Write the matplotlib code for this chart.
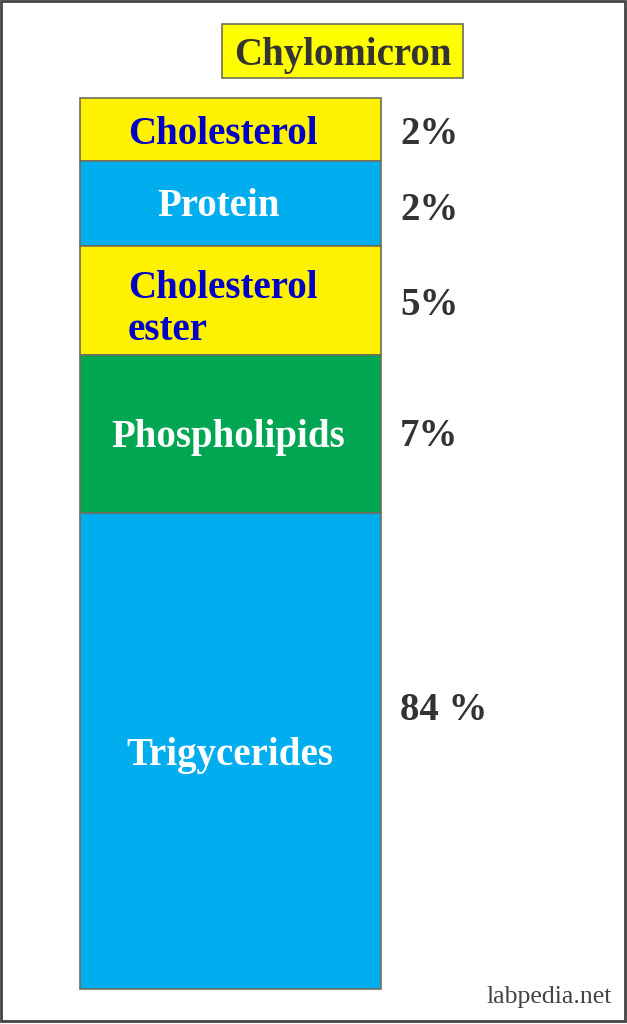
import matplotlib
matplotlib.use("Agg")
import matplotlib.pyplot as plt
from matplotlib.patches import Rectangle
import numpy as np

# Chylomicron composition (segment sizes as drawn, not to scale)
components = ['Cholesterol', 'Protein', 'Cholesterol\nester', 'Phospholipids', 'Trigycerides']
percent_labels = ['2%', '2%', '5%', '7%', '84 %']
segment_heights = [63, 85, 109, 158, 476]

seg_colors = ['#FFF200', '#00AEEF', '#FFF200', '#00A651', '#00AEEF']
text_colors = ['#0000C8', 'white', '#0000C8', 'white', 'white']
text_align = ['center', 'center', 'left', 'center', 'center']
text_x = [223, 219, 128, 228, 230]
text_offset = [5, 3, 9, 3, 5]
pct_offset = [5, 7, 5, 3, -40]

W, H = 627, 1024
fig = plt.figure(figsize=(W / 100, H / 100), dpi=100)
ax = fig.add_axes([0, 0, 1, 1])
ax.set_xlim(0, W)
ax.set_ylim(H, 0)
ax.axis('off')

serif = ['Liberation Serif', 'DejaVu Serif']

top = 98
bottoms = top + np.concatenate([[0], np.cumsum(segment_heights)[:-1]])
bar_left, bar_w = 80, 301
for i in range(len(components)):
    ax.bar([bar_left], [segment_heights[i]], width=bar_w, bottom=bottoms[i],
           align='edge', color=seg_colors[i], edgecolor='#6e6e58', linewidth=1.2)

for i, name in enumerate(components):
    yc = bottoms[i] + segment_heights[i] / 2
    ax.text(text_x[i], yc + text_offset[i], name, ha=text_align[i], va='center',
            fontsize=28, fontweight='bold', family=serif, color=text_colors[i],
            linespacing=1.2)
    ax.text(400, yc + pct_offset[i], percent_labels[i], ha='left', va='center',
            fontsize=28, fontweight='bold', family=serif, color='#333333')

# title box
ax.add_patch(Rectangle((222, 24), 241, 54, facecolor='#FFFF00',
                       edgecolor='#6e6e58', linewidth=1.2))
ax.text(343, 55, 'Chylomicron', ha='center', va='center', fontsize=28,
        fontweight='bold', family=serif, color='#333333')

ax.text(612, 997, 'labpedia.net', ha='right', va='center', fontsize=18.5,
        family=serif, color='#444444')

# outer frame
ax.add_patch(Rectangle((1, 1), W - 3, H - 4, fill=False,
                       edgecolor='#444444', linewidth=2))

fig.savefig('out.png', dpi=100, facecolor='white')
